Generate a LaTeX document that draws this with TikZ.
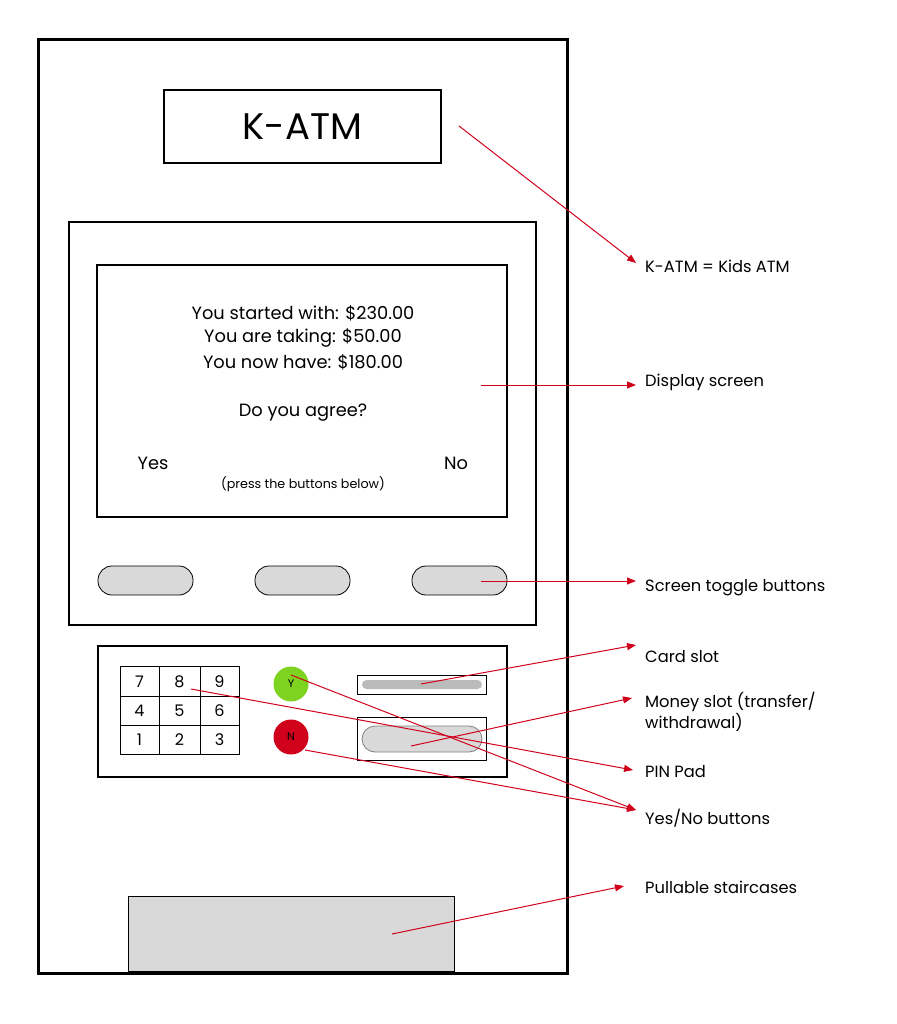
\documentclass[tikz,border=0pt]{standalone}
\usepackage{fontspec}
\setmainfont{Poppins}
\usetikzlibrary{arrows.meta}
\definecolor{arrred}{HTML}{D0021B}
\definecolor{btngray}{HTML}{D9D9D9}
\definecolor{slotgray}{HTML}{BBBBBB}
\definecolor{ygreen}{HTML}{7ED321}
\tikzset{
  thickbox/.style={draw=black,line width=2.5pt},
  medbox/.style={draw=black,line width=2pt},
  thinbox/.style={draw=black,line width=0.8pt},
  togglebtn/.style={draw=black,line width=0.8pt,fill=btngray,rounded corners=14pt},
  callout/.style={draw=arrred,line width=1pt,-{Triangle[length=9pt,width=7pt]}},
  lbl/.style={anchor=west,font=\fontsize{16.3}{21}\selectfont,inner sep=0pt,align=left},
  scr/.style={font=\fontsize{17.8}{20}\selectfont,inner sep=0pt},
  keyd/.style={font=\fontsize{16}{19}\selectfont,inner sep=0pt},
}
\begin{document}
\begin{tikzpicture}[x=1pt,y=-1pt]
\useasboundingbox (0,0) rectangle (896,1024);
% outer body
\draw[line width=3pt] (38,40) rectangle (567,973);
% title
\node[thickbox,minimum width=277pt,minimum height=73pt,font=\fontsize{37}{40}\selectfont] (title) at (302.5,126.5) {K-ATM};
% screen frame
\draw[medbox] (69,222) rectangle (536,625);
\node[medbox,minimum width=410pt,minimum height=252pt,inner sep=0pt] (display) at (302,391) {};
\node[scr] (t1) at (303,313) {You started with: \$230.00};
\node[scr] (t2) at (303,338) {You are taking: \$50.00};
\node[scr] (t3) at (303,362) {You now have: \$180.00};
\node[scr] (t4) at (303,413) {Do you agree?};
\node[scr] (yes) at (153,463) {Yes};
\node[scr] (no) at (456,463) {No};
\node[font=\fontsize{12.7}{14}\selectfont,inner sep=0pt] (press) at (303,484) {(press the buttons below)};
% toggle buttons
\node[togglebtn,minimum width=95pt,minimum height=29pt] (b1) at (145.5,580.5) {};
\node[togglebtn,minimum width=95pt,minimum height=29pt] (b2) at (302.5,580.5) {};
\node[togglebtn,minimum width=95pt,minimum height=29pt] (b3) at (459.5,580.5) {};
% keypad panel
\draw[medbox] (98,646) rectangle (507,777);
\draw[thinbox] (120,666) rectangle (239,754);
\draw[thinbox] (159,666) -- (159,754) (200,666) -- (200,754);
\draw[thinbox] (120,696) -- (239,696) (120,725) -- (239,725);
\node[keyd] (k7) at (139.5,682) {7};
\node[keyd] (k8) at (179.5,682) {8};
\node[keyd] (k9) at (219.5,682) {9};
\node[keyd] (k4) at (139.5,711) {4};
\node[keyd] (k5) at (179.5,711) {5};
\node[keyd] (k6) at (219.5,711) {6};
\node[keyd] (k1) at (139.5,740) {1};
\node[keyd] (k2) at (179.5,740) {2};
\node[keyd] (k3) at (219.5,740) {3};
% Y / N
\node[circle,fill=ygreen,minimum size=35pt,inner sep=0pt,font=\fontsize{11}{12}\selectfont] (ybtn) at (291,684) {Y};
\node[circle,fill=arrred,minimum size=35pt,inner sep=0pt,font=\fontsize{11}{12}\selectfont] (nbtn) at (291,737) {N};
% card slot
\node[thinbox,minimum width=129pt,minimum height=19pt,inner sep=0pt] (card) at (421.5,684.5) {};
\node[fill=slotgray,rounded corners=4.5pt,minimum width=120pt,minimum height=9pt,inner sep=0pt] (cardbar) at (422,684.5) {};
% money slot
\node[thinbox,minimum width=129pt,minimum height=43pt,inner sep=0pt] (money) at (421.5,738.5) {};
\node[draw=gray,line width=0.8pt,fill=btngray,rounded corners=13pt,minimum width=120pt,minimum height=26pt,inner sep=0pt] (moneybar) at (422,739) {};
% staircase
\node[draw=black,line width=0.6pt,fill=btngray,minimum width=326pt,minimum height=75pt,inner sep=0pt] (stairs) at (291,933.5) {};
% labels
\node[lbl] (l1) at (645,266) {K-ATM = Kids ATM};
\node[lbl] (l2) at (645,382) {Display screen};
\node[lbl] (l3) at (645,588) {Screen toggle buttons};
\node[lbl] (l4) at (645,657) {Card slot};
\node[lbl,anchor=north west] (l5) at (645,692) {Money slot (transfer/\\withdrawal)};
\node[lbl] (l6) at (645,772) {PIN Pad};
\node[lbl] (l7) at (645,818) {Yes/No buttons};
\node[lbl] (l8) at (645,887) {Pullable staircases};
% arrow coordinates
\coordinate (s1) at (459,126);
\coordinate (e1) at (636,263);
\coordinate (s2) at (481,385);
\coordinate (e2) at (636,385);
\coordinate (s3) at (481,581);
\coordinate (e3) at (636,581);
\coordinate (s4) at (421,684);
\coordinate (e4) at (636,645);
\coordinate (s5) at (411,746);
\coordinate (e5) at (632,698);
\coordinate (s6) at (191,689);
\coordinate (e6) at (633,770);
\coordinate (s7) at (291,675);
\coordinate (s7b) at (305,750);
\coordinate (e7) at (636,810);
\coordinate (s8) at (392,934);
\coordinate (e8) at (624,886);
\draw[callout] (s1) -- (e1);
\draw[callout] (s2) -- (e2);
\draw[callout] (s3) -- (e3);
\draw[callout] (s4) -- (e4);
\draw[callout] (s5) -- (e5);
\draw[callout] (s6) -- (e6);
\draw[callout] (s7) -- (e7);
\draw[callout] (s7b) -- (e7);
\draw[callout] (s8) -- (e8);
\end{tikzpicture}
\end{document}
